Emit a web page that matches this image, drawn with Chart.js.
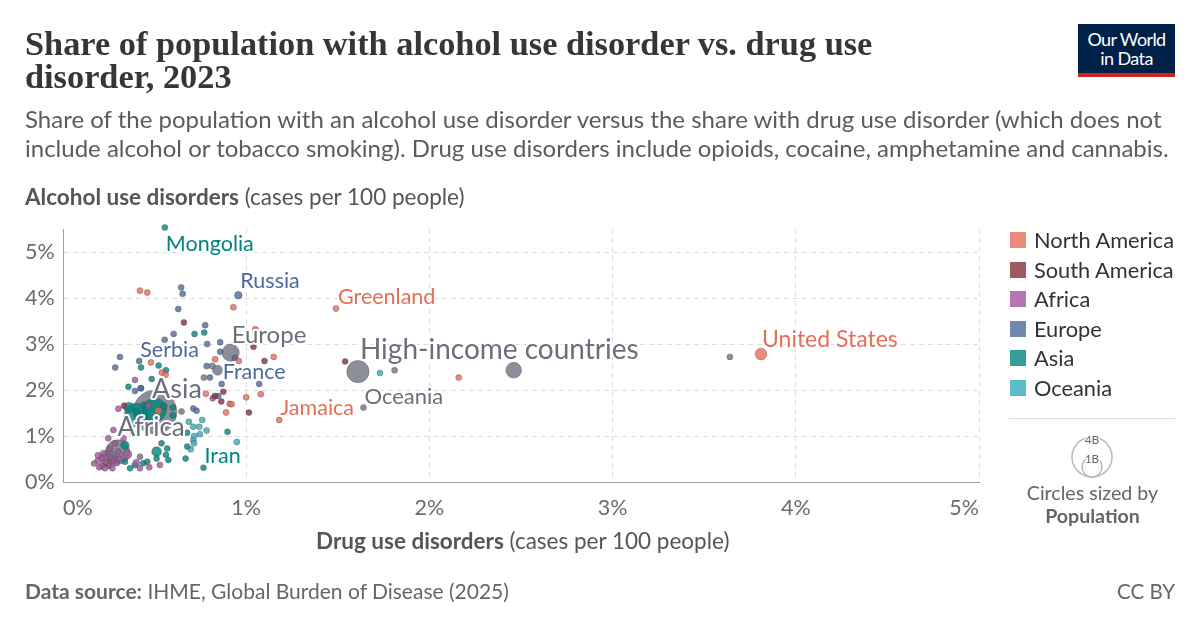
<!DOCTYPE html>
<html>
<head>
<meta charset="utf-8">
<script src="https://cdn.jsdelivr.net/npm/chart.js@4.4.1/dist/chart.umd.min.js"></script>
<style>
  body { margin: 0; background: #fff; font-family: Lato, sans-serif; }
  #wrap { position: relative; width: 1200px; height: 627px; overflow: hidden; background: #fff; }
  #chart { position: absolute; left: 0; top: 0; }
  .abs { position: absolute; white-space: nowrap; }
  #title { left: 25px; top: 28px; font-family: 'Liberation Serif', serif; font-weight: bold; font-size: 33px; line-height: 33px;
           color: #363636; transform: scaleX(1.04); transform-origin: left top; }
  #subtitle { left: 25px; top: 104px; font-size: 24px; line-height: 29px; color: #5b5b5b; }
  #ytitle { left: 25px; top: 183px; font-size: 22.5px; line-height: 27px; color: #555; }
  #xtitle { left: 316px; top: 527px; font-size: 22.5px; line-height: 27px; color: #555; }
  #footer { left: 25px; top: 578px; font-size: 21px; line-height: 26px; color: #666; }
  #cc { right: 25px; top: 578px; font-size: 20.5px; line-height: 26px; color: #666; }
  b { font-weight: 700; }
  #logo { left: 1078px; top: 24px; width: 97px; height: 53px; background: #002147; color: #fff;
          font-size: 18px; line-height: 19px; text-align: center; box-sizing: border-box; padding-top: 6px;
          border-bottom: 4px solid #ce261e; letter-spacing: -0.6px; }
  .sw { position: absolute; left: 1010px; width: 16px; height: 16px; }
  .lt { position: absolute; left: 1034px; font-size: 21.8px; color: #333; line-height: 24px; }
  #sep { left: 1009px; top: 418px; width: 166px; height: 1px; background: #ddd; }
  #sizeBy { left: 1010px; top: 481px; width: 165px; text-align: center; font-size: 19.6px; line-height: 23px; color: #666; }
</style>
</head>
<body>
<div id="wrap">
  <canvas id="chart" width="1200" height="627"></canvas>
  <div id="title" class="abs">Share of population with alcohol use disorder vs. drug use<br>disorder, 2023</div>
  <div id="subtitle" class="abs">Share of the population with an alcohol use disorder versus the share with drug use disorder (which does not<br>include alcohol or tobacco smoking). Drug use disorders include opioids, cocaine, amphetamine and cannabis.</div>
  <div id="ytitle" class="abs"><b>Alcohol use disorders</b> (cases per 100 people)</div>
  <div id="xtitle" class="abs"><b>Drug use disorders</b> (cases per 100 people)</div>
  <div id="footer" class="abs"><b>Data source:</b> IHME, Global Burden of Disease (2025)</div>
  <div id="cc" class="abs">CC BY</div>
  <div id="logo" class="abs">Our World<br>in Data</div>
  <div id="legend"></div>
  <div id="sep" class="abs"></div>
  <svg class="abs" style="left:1062px;top:430px" width="60" height="50">
    <circle cx="30" cy="27" r="20" fill="none" stroke="#bbb" stroke-width="1.5"/>
    <circle cx="30" cy="37" r="10" fill="none" stroke="#bbb" stroke-width="1.5"/>
    <text x="30" y="14" text-anchor="middle" font-family="Lato" font-size="12" fill="#666" stroke="#fff" stroke-width="3" paint-order="stroke">4B</text>
    <text x="30" y="33" text-anchor="middle" font-family="Lato" font-size="11.5" fill="#666" stroke="#fff" stroke-width="3" paint-order="stroke">1B</text>
  </svg>
  <div id="sizeBy" class="abs">Circles sized by<br><b>Population</b></div>
</div>
<script>
// regions in legend order
const regions = ['North America', 'South America', 'Africa', 'Europe', 'Asia', 'Oceania'];
const regionColors = ['#E56E5A', '#883039', '#A2559C', '#4C6A9C', '#00847E', '#38AABA'];

// x = drug use disorders (%), y = alcohol use disorders (%), pop = population (millions)
const naX = [3.81, 1.49, 1.18, 0.42, 0.46, 0.93, 2.16, 0.96, 1.15, 1.05, 0.83, 0.48, 0.54, 0.56, 1.08, 1.00, 0.91, 0.92, 0.89, 0.78, 0.52];
const naY = [2.78, 3.77, 1.35, 4.16, 4.12, 3.80, 2.27, 2.63, 2.72, 3.32, 2.67, 2.60, 2.38, 2.33, 1.91, 1.84, 1.70, 1.69, 1.51, 1.92, 1.55];
const naPop = [340, 0.06, 2.8, 0.1, 0.3, 0.05, 40, 11, 0.4, 0.2, 10, 0.1, 0.4, 0.2, 1.4, 6, 18, 10, 5, 4, 130];

const saX = [1.54, 0.66, 1.10, 1.04, 1.015, 0.864, 0.875, 0.829, 0.333];
const saY = [2.62, 3.47, 2.63, 2.94, 1.51, 1.75, 1.96, 1.87, 1.66];
const saPop = [20, 3.4, 46, 0.8, 7, 52, 34, 12, 0.6];

const afX = [0.393, 0.817, 0.302, 0.465, 0.189, 0.211, 0.233, 0.253, 0.271, 0.293, 0.256, 0.307, 0.229, 0.198, 0.42, 0.471, 0.529, 0.284, 0.256, 0.302, 0.247, 0.275, 0.35, 0.22, 0.33, 0.38, 0.40, 0.24, 0.17, 0.21, 0.27, 0.19];
const afY = [2.22, 1.82, 1.59, 1.67, 0.46, 0.35, 0.44, 0.35, 0.48, 0.41, 0.54, 0.51, 0.30, 0.32, 0.30, 0.32, 0.37, 0.84, 0.73, 0.66, 0.95, 1.13, 0.60, 0.62, 0.95, 1.05, 0.42, 0.40, 0.40, 0.52, 0.30, 0.58];
const afPop = [2, 1.3, 30, 18, 20, 25, 28, 35, 12, 17, 22, 29, 14, 18, 26, 21, 33, 9, 10, 15, 6, 3, 225, 105, 47, 40, 112, 126, 16, 13, 8, 19];

const euX = [0.957, 0.416, 0.866, 0.645, 0.653, 0.629, 0.604, 0.555, 0.311, 0.285, 0.426, 0.776, 0.858, 0.787, 0.858, 0.938, 0.784, 0.802, 1.071, 0.847, 0.711, 0.729, 0.393, 0.424];
const euY = [4.06, 2.63, 2.13, 4.23, 4.09, 3.76, 3.22, 3.09, 2.72, 2.49, 2.04, 3.41, 3.04, 3.00, 2.83, 2.70, 2.52, 2.27, 2.13, 1.87, 1.60, 1.55, 1.98, 2.04];
const euPop = [145, 6.7, 68, 1.3, 1.9, 2.8, 9.1, 38, 3.8, 2.4, 10, 5.5, 9.5, 10.7, 84, 5.9, 11.8, 68, 0.6, 47, 10.4, 59, 4.1, 2.1];

const asX = [0.556, 0.767, 0.50, 0.40, 0.718, 0.771, 0.426, 0.522, 0.562, 0.484, 0.357, 0.402, 0.898, 0.678, 0.678, 0.669, 0.338, 0.366, 0.393, 0.438, 0.46, 0.511, 0.511, 0.569, 0.562, 0.575, 0.538, 0.338, 0.36, 0.44, 0.55, 0.60, 0.35, 0.60];
const asY = [5.53, 0.31, 1.57, 1.45, 3.22, 3.25, 2.49, 2.53, 2.43, 2.24, 2.07, 1.53, 1.09, 1.07, 0.77, 0.51, 0.44, 0.30, 0.37, 0.41, 0.44, 0.66, 0.51, 0.73, 0.59, 0.48, 0.84, 0.80, 1.62, 1.68, 1.65, 1.45, 1.40, 1.62];
const asPop = [3.4, 90, 1410, 1440, 10, 20, 7, 5, 3, 6, 36, 100, 10, 35, 11, 4.5, 26, 34, 24, 18, 30, 240, 19, 7, 5, 11, 0.5, 173, 280, 52, 123, 98, 69, 51];

const ocX = [1.73, 0.949, 0.760, 0.744, 0.784, 0.711, 0.747, 0.711, 0.715, 0.697, 0.687, 0.716];
const ocY = [2.37, 0.87, 1.35, 1.20, 1.12, 1.20, 1.04, 0.91, 0.84, 0.71, 1.31, 1.00];
const ocPop = [27, 0.1, 0.9, 0.3, 0.2, 0.1, 0.7, 10, 0.3, 0.1, 0.05, 0.02];

// aggregate regions (grey)
const aggX = [0.502, 0.298, 1.61, 0.915, 1.64, 2.46, 3.64, 1.81, 0.815, 0.844, 0.769, 0.647, 0.42, 0.25];
const aggY = [1.52, 0.65, 2.40, 2.81, 1.62, 2.43, 2.72, 2.43, 2.52, 2.43, 2.27, 1.53, 0.55, 0.50];
const aggPop = [4800, 1500, 1250, 745, 45, 620, 20, 20, 100, 250, 20, 20, 20, 700];

const xTicks = [0, 1, 2, 3, 4, 5];
const yTicks = [0, 1, 2, 3, 4, 5];

const pointLabels = [
  { text: 'Mongolia', set: 'Asia', idx: 0, dx: 1, dy: 16, size: 21.5 },
  { text: 'Iran', set: 'Asia', idx: 1, dx: 1, dy: -12, size: 21.5 },
  { text: 'Russia', set: 'Europe', idx: 0, dx: 2, dy: -14, size: 21.5 },
  { text: 'Serbia', set: 'Europe', idx: 1, dx: 1, dy: -11, size: 21.5 },
  { text: 'France', set: 'Europe', idx: 2, dx: 1, dy: -12, size: 21.5 },
  { text: 'United States', set: 'North America', idx: 0, dx: 1, dy: -15, size: 23 },
  { text: 'Greenland', set: 'North America', idx: 1, dx: 2, dy: -12, size: 21.5 },
  { text: 'Jamaica', set: 'North America', idx: 2, dx: 1, dy: -12, size: 21.5 },
  { text: 'Asia', set: 'World regions', idx: 0, dx: -3, dy: -23, size: 27 },
  { text: 'Africa', set: 'World regions', idx: 1, dx: 0, dy: -24, size: 26 },
  { text: 'High-income countries', set: 'World regions', idx: 2, dx: 2, dy: -22, size: 28 },
  { text: 'Europe', set: 'World regions', idx: 3, dx: 1, dy: -17, size: 24 },
  { text: 'Oceania', set: 'World regions', idx: 4, dx: 1, dy: -11, size: 22 }
];

function radius(pop) {
  return Math.max(3, 20 * Math.sqrt(pop / 4000));
}

function toPoints(xs, ys, pops) {
  return xs.map((x, i) => ({ x: x, y: ys[i], r: radius(pops[i]) }));
}

function fade(hex, a) {
  const n = parseInt(hex.slice(1), 16);
  return 'rgba(' + (n >> 16) + ',' + ((n >> 8) & 255) + ',' + (n & 255) + ',' + a + ')';
}

const seriesData = [
  [naX, naY, naPop], [saX, saY, saPop], [afX, afY, afPop],
  [euX, euY, euPop], [asX, asY, asPop], [ocX, ocY, ocPop]
];

const datasets = regions.map((name, i) => ({
  label: name,
  data: toPoints(...seriesData[i]).sort((a, b) => b.r - a.r),
  backgroundColor: fade(regionColors[i], 0.8),
  borderColor: 'rgba(70,70,70,0.55)',
  borderWidth: 0.7,
  clip: false
}));
datasets.push({
  label: 'World regions',
  data: toPoints(aggX, aggY, aggPop),
  backgroundColor: fade('#6F7381', 0.8),
  borderColor: 'rgba(70,70,70,0.55)',
  borderWidth: 0.7,
  clip: false
});

// legend
const legendEl = document.getElementById('legend');
regions.forEach((name, i) => {
  const top = 232 + i * 29.6;
  legendEl.insertAdjacentHTML('beforeend',
    '<div class="sw" style="top:' + top + 'px;background:' + fade(regionColors[i], 0.8) + '"></div>' +
    '<div class="lt" style="top:' + (top - 4) + 'px">' + name + '</div>');
});

const labelPlugin = {
  id: 'pointLabels',
  afterDatasetsDraw(chart) {
    const ctx = chart.ctx;
    ctx.save();
    ctx.textBaseline = 'middle';
    ctx.textAlign = 'left';
    ctx.lineJoin = 'round';
    pointLabels.forEach(l => {
      const di = chart.data.datasets.findIndex(d => d.label === l.set);
      const ds = chart.data.datasets[di];
      const src = l.set === 'World regions' ? null : seriesData[regions.indexOf(l.set)];
      // find the element that matches the labelled value
      let target;
      if (src) {
        target = ds.data.findIndex(p => p.x === src[0][l.idx] && p.y === src[1][l.idx]);
      } else {
        target = l.idx;
      }
      const el = chart.getDatasetMeta(di).data[target];
      const color = l.set === 'World regions' ? '#6b6f7c' : regionColors[regions.indexOf(l.set)];
      ctx.font = l.size + 'px Lato';
      ctx.strokeStyle = 'rgba(255,255,255,0.95)';
      ctx.lineWidth = 4;
      ctx.strokeText(l.text, el.x + l.dx, el.y + l.dy);
      ctx.fillStyle = color;
      ctx.fillText(l.text, el.x + l.dx, el.y + l.dy);
    });
    ctx.restore();
  }
};

new Chart(document.getElementById('chart'), {
  type: 'bubble',
  data: { datasets },
  plugins: [labelPlugin],
  options: {
    responsive: false,
    animation: false,
    events: [],
    layout: { padding: { left: 25, top: 229, right: 221, bottom: 105 } },
    plugins: { legend: { display: false }, tooltip: { enabled: false } },
    scales: {
      x: {
        type: 'linear', min: 0, max: 5,
        afterBuildTicks: s => { s.ticks = xTicks.map(v => ({ value: v })); },
        afterFit: s => { s.height = 40; },
        grid: { color: '#dcdcdc', drawTicks: false },
        border: { color: '#a0a0a0', dash: [5, 4] },
        ticks: { align: 'inner', padding: 13, color: '#6b6b6b', font: { family: 'Lato', size: 21.5 }, callback: v => v + '%' }
      },
      y: {
        type: 'linear', min: 0, max: 5.5,
        afterBuildTicks: s => { s.ticks = yTicks.map(v => ({ value: v })); },
        afterFit: s => { s.width = 38; },
        grid: { color: '#dcdcdc', drawTicks: false },
        border: { color: '#a0a0a0', dash: [5, 4] },
        ticks: { crossAlign: 'far', padding: 6, color: '#6b6b6b', font: { family: 'Lato', size: 21.5 }, callback: v => v + '%' }
      }
    }
  }
});
</script>
</body>
</html>
